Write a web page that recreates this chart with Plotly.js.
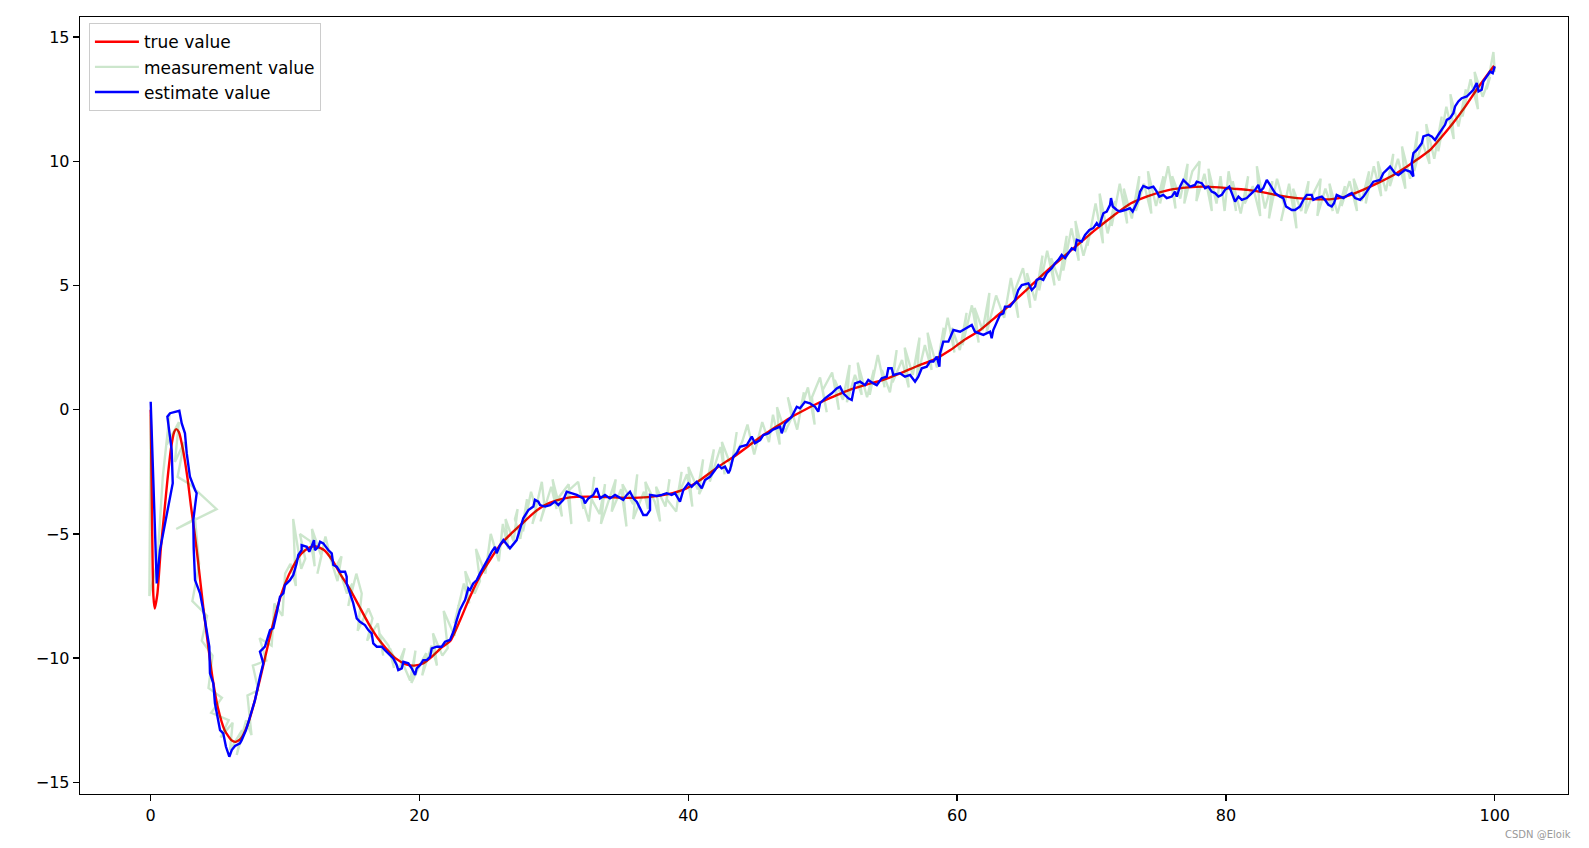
<!DOCTYPE html>
<html>
<head>
<meta charset="utf-8">
<script src="https://cdn.plot.ly/plotly-3.0.1.min.js"></script>
<style>html,body{margin:0;padding:0;background:#fff;}#chart{width:1589px;height:848px;}</style>
</head>
<body>
<div id="chart"></div>
<script>
// ---- data ----
const seriesNames = ["true value", "measurement value", "estimate value"];

const xTrue = [0,0.1,0.2,0.3,0.5,0.75,1.0,1.25,1.5,1.75,1.9,2.1,2.4,2.75,3.0,3.25,3.5,3.9,4.25,4.6,5.0,5.5,6.0,6.3,6.7,7.2,7.7,8.2,8.8,9.4,10.0,10.6,11.2,11.8,12.3,12.9,13.5,14.2,14.8,15.5,16.2,16.9,17.5,18.2,19.0,19.6,20.3,21.0,21.7,22.3,23.0,23.7,24.5,25.3,26.0,26.8,27.7,28.5,29.3,30.2,31.2,32.5,34,35.5,37,38.5,39.6,40.7,41.6,42.6,43.5,44.5,45.5,46.5,47.5,48.5,49.6,50.8,52,53.2,54.5,55.7,57,58.4,59.5,60.5,61.7,62.8,64,65.4,66.6,67.9,69.1,70.3,71.6,72.9,74.2,75.8,77.2,78.3,79.5,80.5,81.6,82.8,84,85.3,86.5,87.7,88.9,90.2,91.4,92.7,93.5,94.3,95.2,96,96.9,97.8,98.8,99.95];
const yTrue = [0,-4.5,-7.5,-8.0,-7.4,-5.6,-4.2,-2.8,-1.6,-0.9,-0.78,-0.9,-1.6,-2.8,-3.9,-4.9,-6.0,-7.9,-9.4,-10.8,-12.0,-12.9,-13.3,-13.37,-13.25,-12.7,-11.8,-10.7,-9.3,-8.0,-7.0,-6.3,-5.8,-5.55,-5.5,-5.65,-6.05,-6.7,-7.2,-7.9,-8.6,-9.2,-9.6,-10.0,-10.25,-10.3,-10.2,-9.9,-9.55,-9.3,-8.5,-7.6,-6.7,-6.0,-5.45,-5.0,-4.55,-4.15,-3.85,-3.65,-3.53,-3.5,-3.52,-3.55,-3.52,-3.4,-3.23,-2.9,-2.55,-2.16,-1.85,-1.45,-1.05,-0.7,-0.35,-0.05,0.25,0.53,0.8,1.0,1.2,1.45,1.75,2.05,2.4,2.8,3.2,3.7,4.25,4.95,5.55,6.15,6.7,7.25,7.8,8.3,8.6,8.85,8.95,8.98,8.95,8.9,8.85,8.75,8.62,8.52,8.48,8.47,8.58,8.85,9.15,9.52,9.8,10.1,10.46,10.95,11.54,12.2,13.0,13.85];

const xMeas = [0.0,-0.1,0.5,0.9,1.4,1.2,2.1,1.8,2.5,2.0,2.9,4.9,1.9,3.3,3.6,3.1,4.2,3.8,4.6,4.3,5.3,4.5,5.8,5.2,6.1,5.9,6.8,6.4,7.1,7.5,7.2,8.0,7.6,8.6,8.1,9.0,9.2,9.8,10.0,
 10.4,10.8,10.6,11.2,11.5,11.1,11.9,12.2,12.0,12.7,12.4,13.0,13.4,13.1,13.9,14.2,13.9,14.6,15.0,14.7,15.3,15.7,15.4,16.2,16.5,16.1,16.9,17.3,17.0,17.7,18.1,17.8,18.5,18.9,18.6,19.3,19.7,19.4,20.1,20.5,20.2,20.9,21.3,21.0,21.7,22.1,21.8,22.6,22.9,22.6,23.3,23.7,23.4,24.1,24.5,24.2,24.9,25.3,25.9,
 26.2,26.6,26.4,27.0,27.3,27.1,27.5,28.0,27.7,28.3,28.7,28.4,29.1,29.3,29.0,29.8,30.2,29.9,30.6,30.4,31.1,31.3,31.0,31.8,32.2,31.9,32.6,33.0,32.8,33.4,33.8,33.5,34.2,34.6,34.3,35.0,35.4,35.1,35.9,36.2,35.9,36.7,37.0,36.8,37.5,37.9,37.6,38.3,38.6,38.4,39.1,39.5,39.2,39.9,40.3,40.0,40.7,41.1,40.8,41.5,41.9,41.6,42.4,42.7,42.5,43.2,43.6,43.3,44.0,44.4,44.9,45.5,46.0,
 46.3,46.8,46.6,47.2,47.7,47.4,48.1,48.6,48.3,48.9,49.4,49.2,49.8,50.3,50.0,50.7,51.2,50.9,51.5,52.0,51.8,52.4,52.9,52.6,53.3,53.8,53.5,54.1,54.6,54.4,55.0,55.5,55.2,55.9,56.4,56.1,56.7,57.2,57.0,57.6,58.1,57.8,58.5,59.0,58.7,59.3,59.8,59.6,60.2,60.7,60.4,61.1,61.6,61.3,61.9,62.4,62.2,62.9,63.5,
 64.0,64.55,64.3,64.9,65.45,65.2,65.8,66.35,66.1,66.7,67.25,67.0,67.6,68.15,67.9,68.5,69.05,68.8,69.4,69.95,69.7,70.3,70.85,70.6,71.2,71.75,71.5,72.1,72.65,72.4,73.0,73.55,73.3,73.9,74.45,74.2,74.8,75.35,75.1,75.7,76.25,76.0,76.6,77.15,76.9,77.5,78.05,77.8,78.4,78.95,78.7,79.3,79.6,79.9,
 80.2,80.75,80.5,81.1,81.65,81.4,82.0,82.55,82.3,82.9,83.45,83.2,83.8,84.35,84.1,84.7,85.25,85.0,85.6,86.15,85.9,86.5,87.05,86.8,87.4,87.95,87.7,88.3,88.85,88.6,89.2,89.75,89.5,90.1,90.65,90.4,91.0,91.55,91.3,91.9,92.45,92.2,92.8,93.35,93.1,93.7,94.25,94.0,94.6,95.15,94.9,95.5,96.05,95.8,96.4,96.95,96.7,97.3,97.85,97.6,98.2,98.75,98.5,99.1,99.65,99.4,99.9,100.0];
const yMeas = [-0.2,-7.5,-6.1,-2.7,-0.2,-1.4,-0.5,-2.1,-1.3,-2.7,-3.0,-4.0,-4.8,-4.4,-6.2,-7.7,-8.3,-9.3,-9.9,-11.2,-11.6,-12.2,-12.5,-13.2,-12.6,-13.7,-12.9,-13.9,-12.5,-13.1,-11.5,-11.3,-10.3,-10.1,-9.2,-9.5,-7.8,-8.3,-6.6,
 -6.2,-7.1,-4.4,-6.4,-6.0,-5.0,-5.3,-6.3,-4.8,-5.9,-6.6,-5.1,-6.0,-5.5,-6.9,-5.9,-6.2,-7.4,-7.0,-7.9,-6.6,-7.4,-8.9,-8.0,-8.4,-9.3,-8.6,-9.9,-9.0,-9.5,-10.4,-9.6,-10.5,-9.6,-10.0,-10.9,-9.7,-11.0,-10.2,-9.8,-10.7,-9.5,-10.3,-9.0,-9.9,-9.6,-8.1,-9.1,-7.9,-8.6,-7.0,-7.8,-6.5,-7.4,-6.9,-5.6,-6.6,-5.0,-6.1,
 -4.6,-5.6,-4.4,-5.3,-4.0,-4.4,-5.2,-3.6,-4.9,-3.3,-4.1,-4.6,-2.9,-3.9,-4.5,-3.1,-4.0,-2.8,-4.3,-3.5,-3.0,-4.6,-3.3,-2.9,-4.0,-3.2,-4.5,-2.7,-3.6,-4.2,-3.0,-4.6,-3.5,-2.8,-4.1,-3.2,-4.7,-3.0,-3.8,-2.6,-4.4,-3.3,-4.0,-2.9,-3.7,-4.5,-3.1,-3.9,-2.8,-3.6,-4.1,-2.5,-3.5,-2.6,-3.9,-2.3,-3.2,-2.0,-3.4,-2.6,-1.6,-2.9,-1.5,-2.6,-1.3,-2.3,-0.9,-2.0,-1.3,-0.6,-1.8,-0.5,-1.3,
 -0.2,-1.4,0.1,-0.9,-0.3,0.5,-0.8,0.7,-0.1,0.9,-0.6,0.5,1.3,-0.1,0.8,1.5,0.0,1.2,0.4,1.8,0.3,1.4,0.6,1.9,0.5,1.6,0.6,2.2,0.9,1.6,0.7,2.4,1.1,2.0,0.9,2.5,1.4,2.9,1.2,2.6,1.6,3.1,1.7,3.3,2.0,3.7,2.3,3.3,2.4,3.9,2.6,4.2,2.7,4.1,3.2,4.7,3.1,4.6,3.7,
 5.3,3.7,4.8,5.7,4.1,5.5,4.4,6.2,4.8,6.4,5.0,6.1,5.2,7.0,5.6,7.3,6.0,7.6,6.2,7.3,6.6,8.3,6.7,8.7,7.1,8.4,7.4,9.1,7.5,8.9,7.7,9.4,8.0,9.1,7.9,9.6,8.2,9.4,8.3,9.8,8.1,9.4,8.5,9.9,8.3,9.6,10.0,8.4,9.5,8.0,9.7,8.3,9.4,8.0,
 9.6,8.0,9.2,7.9,9.4,8.3,9.0,7.8,9.8,8.1,9.2,7.7,9.3,8.2,7.6,9.1,7.3,8.9,8.0,9.2,7.9,8.7,9.3,7.8,8.9,8.0,9.1,7.9,9.0,8.2,9.2,8.0,9.3,8.4,9.6,8.3,9.8,8.6,10.0,8.8,10.3,9.0,10.1,8.9,10.6,9.3,11.2,9.6,10.8,9.9,11.5,10.1,11.8,10.4,12.2,10.9,12.7,11.4,12.9,11.8,13.3,12.1,13.6,12.6,13.4,12.9,14.4,13.6];

const xEst = [0,0.45,0.69,1.06,1.56,1.64,1.56,1.3,1.24,1.44,1.81,2.13,2.31,2.55,2.68,2.92,3.30,3.42,3.17,3.2,3.30,3.67,3.91,4.17,4.36,4.41,4.66,4.78,4.96,5.16,5.40,5.60,5.85,6.03,6.27,6.64,6.77,7.09,7.39,7.76,8.13,8.38,8.13,8.50,8.88,9.12,9.37,9.62,9.87,9.99,10.36,10.61,10.86,10.98,11.23,11.23,11.61,11.80,11.98,12.15,12.22,12.47,12.60,12.84,13.21,13.47,13.59,13.84,14.08,14.46,14.58,14.58,14.83,15.07,15.33,15.57,15.94,16.19,16.44,16.56,16.82,17.19,17.43,17.81,18.05,18.30,18.42,18.68,18.80,19.17,19.42,19.67,19.79,20.04,20.28,20.54,20.78,20.91,21.28,21.65,21.90,22.27,22.52,22.77,23.01,23.26,23.39,23.63,23.76,24.00,24.26,24.50,24.75,25.12,25.37,25.62,25.74,25.99,26.24,26.73,27.23,27.48,27.72,28.10,28.47,28.59,28.84,28.97,29.34,29.71,30.08,30.33,30.70,30.95,31.32,31.70,32.19,32.31,32.56,32.93,33.18,33.43,33.80,34.17,34.55,34.92,35.16,35.42,35.66,35.91,36.16,36.41,36.65,36.90,37.15,37.15,37.65,38.02,38.39,38.76,39.01,39.38,39.63,40.00,40.25,40.63,41.00,41.24,41.61,41.99,42.23,42.48,42.73,42.98,43.10,43.35,43.60,43.85,44.35,44.72,44.96,45.34,45.58,45.95,46.3,46.83,46.95,47.19,47.69,48.07,48.31,48.68,49.05,49.43,49.67,49.80,50.17,50.67,51.04,51.29,51.53,51.91,52.16,52.40,52.78,53.15,53.39,53.77,54.02,54.39,54.76,54.88,55.13,55.25,55.75,56.12,56.50,56.87,57.11,57.37,57.74,57.98,58.23,58.48,58.68,58.73,58.97,59.35,59.72,60.22,60.71,61.09,61.33,61.95,62.45,62.57,62.69,62.95,63.19,63.44,63.56,63.94,64.31,64.55,64.81,65.30,65.55,65.80,65.92,66.17,66.41,66.67,67.04,67.29,67.53,67.78,68.03,68.27,68.53,68.77,68.90,69.27,69.52,69.84,70.13,70.39,70.58,70.76,70.88,71.13,71.38,71.45,71.58,71.88,72.12,72.49,72.86,73.06,73.24,73.48,73.61,73.85,74.23,74.60,74.85,75.04,75.34,75.60,75.97,76.21,76.34,76.58,76.83,77.08,77.33,77.70,77.83,78.20,78.45,78.69,78.94,79.19,79.44,79.69,79.93,80.25,80.43,80.68,80.93,81.18,81.55,81.92,82.17,82.41,82.54,82.78,83.04,83.28,83.66,84.03,84.27,84.47,84.65,84.90,85.14,85.51,85.76,86.01,86.38,86.50,86.76,87.13,87.37,87.62,87.87,88.04,88.24,88.49,88.74,89.11,89.36,89.61,89.98,90.23,90.48,90.72,90.97,91.47,91.71,92.21,92.58,92.83,93.33,93.70,93.95,93.82,93.95,94.20,94.57,94.69,95.06,95.31,95.56,95.80,96.06,96.30,96.43,96.67,96.92,97.05,97.29,97.54,97.92,98.16,98.41,98.66,98.79,99.03,99.15,99.40,99.65,99.85,100.0];
const yEst = [0.32,-6.99,-5.65,-4.57,-3.23,-2.96,-1.62,-0.6,-0.28,-0.14,-0.08,-0.04,-0.55,-0.95,-1.75,-2.70,-3.23,-3.36,-4.44,-5.6,-6.86,-7.39,-8.06,-8.87,-9.54,-10.61,-11.02,-11.82,-12.36,-12.90,-13.03,-13.57,-13.97,-13.70,-13.54,-13.43,-13.30,-12.90,-12.36,-11.69,-10.75,-10.21,-9.74,-9.54,-8.87,-8.80,-8.20,-7.53,-7.39,-7.06,-6.86,-6.65,-6.18,-5.85,-5.65,-5.45,-5.52,-5.72,-5.49,-5.25,-5.65,-5.52,-5.31,-5.38,-5.65,-5.78,-6.25,-6.32,-6.52,-6.52,-6.72,-6.99,-7.39,-7.79,-8.40,-8.54,-8.67,-8.87,-9.00,-9.41,-9.54,-9.54,-9.68,-9.88,-10.01,-10.28,-10.48,-10.41,-10.15,-10.21,-10.41,-10.68,-10.41,-10.28,-10.08,-10.08,-9.95,-9.61,-9.54,-9.54,-9.34,-9.27,-8.94,-8.47,-8.06,-7.79,-7.66,-7.19,-7.26,-6.99,-6.86,-6.59,-6.32,-5.98,-5.72,-5.52,-5.78,-5.45,-5.25,-5.58,-5.25,-4.84,-4.37,-4.04,-3.90,-3.63,-3.70,-3.84,-3.90,-3.84,-3.70,-3.84,-3.63,-3.30,-3.36,-3.43,-3.57,-3.77,-3.57,-3.43,-3.16,-3.57,-3.43,-3.57,-3.43,-3.57,-3.63,-3.43,-3.30,-3.57,-3.70,-3.97,-4.24,-4.24,-4.04,-3.43,-3.47,-3.43,-3.36,-3.43,-3.36,-3.70,-3.23,-2.96,-3.10,-2.90,-3.16,-2.83,-2.70,-2.43,-2.23,-2.36,-2.29,-2.56,-2.43,-1.89,-1.75,-1.49,-1.42,-1.08,-1.35,-1.22,-1.02,-0.95,-0.8,-0.68,-0.95,-0.55,-0.28,0.12,0.06,0.32,0.26,0.12,-0.08,0.26,0.46,0.66,0.86,0.93,0.66,0.46,0.39,1.06,1.13,0.99,1.20,1.06,0.99,1.27,1.33,1.67,1.67,1.40,1.47,1.33,1.40,1.13,1.33,1.67,1.73,1.94,1.94,2.14,1.73,2.27,2.74,2.74,3.21,3.14,3.28,3.41,3.14,3.01,3.14,2.88,3.21,3.55,3.82,3.88,4.15,4.15,4.42,4.82,5.02,5.09,4.82,4.96,5.23,5.29,5.23,5.50,5.70,5.90,6.03,6.23,6.10,6.30,6.50,6.43,6.84,6.77,7.04,7.24,7.31,7.51,7.37,7.71,7.91,7.98,8.25,8.52,8.18,8.04,7.98,8.04,8.11,7.98,8.18,8.45,8.78,9.01,8.92,8.98,8.78,8.58,8.65,8.52,8.58,8.78,8.58,8.98,9.25,9.12,8.98,9.05,9.18,9.12,8.92,8.98,8.78,8.72,8.58,8.65,8.85,8.98,8.72,8.38,8.58,8.45,8.52,8.72,8.85,9.05,8.78,8.92,9.25,9.05,8.72,8.58,8.52,8.18,8.11,8.04,8.04,8.18,8.45,8.65,8.65,8.45,8.52,8.58,8.45,8.25,8.18,8.31,8.65,8.58,8.52,8.65,8.72,8.52,8.45,8.58,8.78,8.98,9.18,9.25,9.52,9.79,9.52,9.45,9.66,9.59,9.39,9.93,10.33,10.46,10.73,11.00,11.07,11.00,10.86,11.07,11.27,11.47,11.67,11.74,11.94,12.21,12.41,12.54,12.61,12.74,12.88,13.15,12.81,12.88,13.21,13.41,13.61,13.55,13.82];

const xTicks = [0, 20, 40, 60, 80, 100];
const yTicks = [-15, -10, -5, 0, 5, 10, 15];

// ---- chart ----
const font = "DejaVu Sans, sans-serif";
const traces = [
  {x: xTrue, y: yTrue, name: seriesNames[0], mode: "lines", legendgroup: "a",
   line: {color: "#ff0000", width: 2.4, shape: "spline", smoothing: 0.6}},
  {x: xMeas, y: yMeas, name: seriesNames[1], mode: "lines", legendgroup: "b",
   line: {color: "rgba(0,128,0,0.2)", width: 2.4}},
  {x: xEst, y: yEst, name: seriesNames[2], mode: "lines", legendgroup: "c",
   line: {color: "#0000ff", width: 2.4}}
];

const axisCommon = {
  showgrid: false, zeroline: false, showline: true, mirror: true,
  linecolor: "#000", linewidth: 1.3, ticks: "outside", ticklen: 6, tickwidth: 1.3,
  tickcolor: "#000", tickfont: {family: font, size: 16, color: "#000"}
};

const layout = {
  width: 1589, height: 848,
  margin: {l: 80, r: 21, t: 17, b: 54},
  paper_bgcolor: "#fff", plot_bgcolor: "#fff",
  showlegend: true,
  font: {family: font, size: 17, color: "#000"},
  xaxis: Object.assign({}, axisCommon, {range: [-5.26, 105.45], tickvals: xTicks, ticktext: xTicks.map(String)}),
  yaxis: Object.assign({}, axisCommon, {range: [-15.47, 15.81], tickvals: yTicks,
    ticktext: yTicks.map(v => v < 0 ? "\u2212" + Math.abs(v) : String(v))}),
  legend: {x: 0.006, y: 0.992, xanchor: "left", yanchor: "top",
    bgcolor: "rgba(255,255,255,0.8)", bordercolor: "#cccccc", borderwidth: 1,
    font: {family: font, size: 17, color: "#000"}, tracegroupgap: 4, itemwidth: 44,
    traceorder: "normal"},
  annotations: [{
    text: "CSDN @Eloik", xref: "paper", yref: "paper", x: 1.0034, y: -0.0515,
    xanchor: "right", yanchor: "middle", showarrow: false,
    font: {family: font, size: 10, color: "#999999"}
  }]
};

Plotly.newPlot("chart", traces, layout, {displayModeBar: false, staticPlot: true});
</script>
</body>
</html>
